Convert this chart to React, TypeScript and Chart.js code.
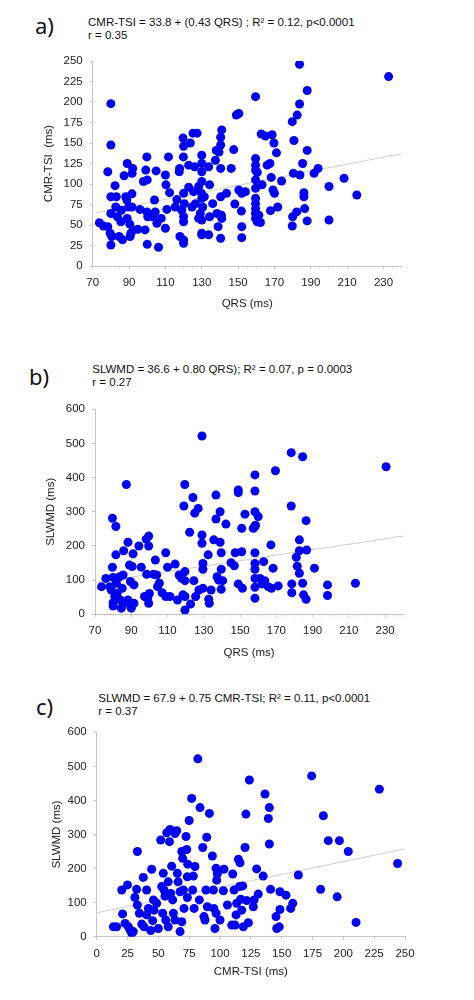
import { useEffect, useRef } from "react";
import { Chart, registerables } from "chart.js";

Chart.register(...registerables);

type Pt = [number, number];

// tick labels
const qrsTicks = [70, 90, 110, 130, 150, 170, 190, 210, 230];

// a) QRS (ms) vs CMR-TSI (ms)
const pointsA: Pt[] = [
  [73.7, 52.8], [75.9, 48.8], [78.3, 48], [78.3, 115], [80, 147.6], [80, 198], [80, 84.5], [80, 64],
  [79.6, 40], [80, 25.6], [80.5, 36], [82.3, 98], [82.7, 72], [83, 84.5], [83.6, 60], [84.5, 36],
  [85.5, 54], [85.8, 68], [86.4, 32], [87.3, 110], [88.2, 84.5], [88.8, 80.5], [89, 125], [89, 58],
  [89.7, 72], [90.4, 51], [90.6, 36], [91, 40], [91.6, 88], [91.7, 113], [92, 119], [91.6, 72],
  [92.4, 44], [94.8, 44.7], [96, 69], [98.8, 44], [97.9, 103], [99.8, 133], [99.2, 117], [100, 105],
  [99.8, 66], [100.3, 60], [100, 26.4], [103, 60], [104, 80.5], [104.4, 66], [104.9, 116], [105.3, 52],
  [106.2, 22.8], [107.7, 58], [110, 46], [110, 111], [110.3, 99], [110.8, 69], [111.7, 133], [112.3, 89.4],
  [115.4, 72], [116.3, 81], [117.6, 115], [117.8, 119], [118, 36], [119, 68], [119.7, 156], [120, 146],
  [119.9, 133], [120, 88.6], [120, 60], [120, 54], [120, 27.6], [120, 31.7], [120.4, 76], [122.8, 123],
  [122.8, 96], [123.7, 150], [124.6, 72], [125.2, 162], [125.5, 90.7], [126, 121], [126.5, 76], [127.4, 162],
  [128.3, 97], [128.3, 58], [129.2, 64], [129.8, 88.6], [130, 135], [130, 125], [130, 115], [130, 103],
  [130, 82.5], [130.5, 72], [130, 56], [130, 40], [130, 38], [131.4, 84.5], [133.8, 121], [133.8, 38],
  [134.3, 99], [134.3, 60], [136, 76], [137.5, 129], [138, 141], [138.4, 64], [139, 48], [139.5, 139],
  [140.4, 157], [140.4, 147.6], [140.4, 119], [140.4, 33.7], [140.4, 84.5], [140.8, 62], [141, 166], [141, 58],
  [143.6, 88.6], [146.2, 119], [147.6, 142], [148.2, 75.6], [149, 184], [150.4, 186], [150.4, 92.7], [152, 88.6],
  [151.8, 67], [152, 48], [152, 34.6], [154, 90.7], [159.6, 206.5], [159.6, 131], [159.6, 123], [159.6, 117],
  [159.6, 105], [159.6, 94.7], [159.6, 82.5], [159.6, 76], [159.6, 70], [159.6, 64], [159.6, 58], [160.5, 54],
  [160.5, 114], [161.4, 62], [162.3, 53], [162.7, 161], [163.2, 99], [165, 158.5], [166, 123], [167.5, 125],
  [167.8, 67.5], [168.2, 108], [168.7, 160], [169.2, 92.7], [169.7, 150], [170, 88.6], [171.1, 138], [171.8, 72],
  [173.9, 103.7], [179.8, 176], [179.8, 48.8], [180, 60], [180.4, 113], [180.7, 153], [182.2, 66], [182.5, 184],
  [183.8, 246], [183.8, 197.5], [184, 111], [185.5, 125], [186.2, 89.4], [186.2, 84.5], [186.6, 70], [188, 214],
  [188, 141], [188, 55], [191.8, 113], [194, 119], [200, 97], [200, 56], [208.3, 107], [215.3, 86.6],
  [232.8, 231],
];
const trendA: Pt[] = [[72, 65], [240, 137]];

// b) QRS (ms) vs SLWMD (ms)
const pointsB: Pt[] = [
  [73.6, 81], [76, 105], [78.2, 81], [79, 71], [79.6, 281], [79.6, 137.6], [80, 108], [80, 34],
  [80, 24], [80.9, 52], [81.5, 257], [81.5, 174], [81.8, 91], [82.2, 61], [83.6, 110], [84, 42],
  [84.5, 18], [85, 76], [85.5, 115], [85.8, 186], [86.4, 32], [87.3, 380], [88.2, 211], [88.2, 42],
  [89, 144], [89.5, 96], [90, 18], [90.5, 140], [91, 177], [91.5, 86], [91.5, 32], [94.2, 200],
  [95.5, 138], [97.3, 52], [98.2, 220], [98.5, 117], [99, 47], [99.6, 229], [99.6, 200], [99.6, 32],
  [100, 61], [102.2, 117], [103.3, 159], [104, 115], [104.5, 81], [105.5, 91], [107, 63], [109, 180],
  [109, 52], [110, 138], [111.3, 52], [114.2, 147], [115.5, 42], [116.4, 115], [117.8, 105], [118.5, 57],
  [119, 317], [119.5, 380], [119.6, 125], [119.6, 98.5], [119.6, 52], [119.6, 12.7], [122.2, 240], [122.7, 30],
  [124, 342], [124.5, 98.5], [125, 296], [125.5, 52], [126.9, 310], [127.3, 71], [129, 522], [129, 232],
  [129, 208], [129.5, 149], [129.5, 132], [129.5, 76], [132.4, 174], [132.7, 44], [133, 32], [134, 71],
  [135.5, 218], [136.7, 279], [136.7, 349], [137.3, 110], [138.2, 100], [139, 300], [139, 211], [139.6, 180],
  [139.6, 132], [139.6, 73], [140.4, 98.5], [142.2, 264], [145, 151], [146.8, 142], [147.3, 180], [149, 364],
  [149, 356], [149, 89], [150.9, 252], [150.9, 183], [151.3, 76], [152.7, 293], [157.3, 252], [158.2, 408],
  [158.2, 361], [158.2, 300], [158.2, 257], [158.2, 180], [158.2, 149], [158.2, 132], [158.2, 105], [158.2, 79],
  [158.2, 47], [158.5, 261], [160, 286], [161, 105], [162, 89], [163, 154], [163.6, 98.5], [165.5, 81],
  [167, 203], [167.3, 76], [168.2, 135], [169.5, 420], [171, 83], [178.2, 317], [178.2, 473], [178.5, 89],
  [178.5, 63], [181, 167], [181.5, 141], [182.7, 218], [182.7, 120], [182.7, 186], [184.5, 461], [184.5, 91],
  [185, 57], [186.4, 274], [186.4, 44], [186.7, 188], [191, 135], [198.2, 86], [198.2, 55], [213.6, 91],
  [230.5, 432],
];
const trendB: Pt[] = [[70, 93], [240, 229]];

// c) CMR-TSI (ms) vs SLWMD (ms)
const pointsC: Pt[] = [
  [13.5, 29], [16.2, 29], [20.3, 137], [21, 67], [23, 39], [25, 152], [25.7, 29], [27, 20],
  [28.4, 10], [29.7, 15], [31, 115], [32.4, 139], [33, 250], [33, 93], [34.6, 69], [36.5, 37],
  [37.8, 174], [38.4, 29], [40.5, 137], [40.5, 64], [41.9, 83], [43.8, 18], [44.6, 198], [45.4, 47],
  [46, 108], [46.5, 78], [48.6, 98], [50, 24], [51.9, 284], [52.7, 147], [53.5, 69], [54, 186],
  [54.6, 137], [55.4, 119], [56, 49], [56.8, 305], [58, 161], [58, 29], [59, 279], [59.5, 315],
  [60, 127], [60.8, 207], [61.6, 108], [62.2, 69], [63.5, 303], [63.5, 49], [64.9, 311], [65.4, 186],
  [66, 161], [67.6, 132], [67.6, 15], [69, 44], [69, 250], [69.7, 230], [70.3, 137], [70.8, 83],
  [72.4, 294], [73, 256], [73.5, 176], [73.8, 213], [73.5, 115], [75, 341], [77, 406], [77.8, 137],
  [78.4, 178], [79, 83], [79.7, 206], [82, 522], [83.2, 108], [83.8, 379], [86, 262], [87, 59],
  [87.8, 49], [88.6, 137], [89.2, 292], [89.7, 88], [91.4, 362], [93.8, 237], [94.6, 137], [95, 83],
  [95.9, 24], [96.8, 69], [96.8, 201], [97.3, 166], [97.8, 184], [100, 49], [102.7, 135], [103.2, 198],
  [106, 93], [109.5, 34], [110.3, 184], [111.4, 137], [112.2, 34], [113, 64], [113.5, 98], [114.9, 227],
  [115.7, 147], [116.2, 217], [116.8, 110], [117.6, 78], [118.4, 149], [118.9, 29], [120.3, 262], [121, 360],
  [121.6, 106], [123, 41], [123.8, 460], [127, 88], [127.6, 108], [129.7, 199], [131, 125], [135, 178],
  [136.5, 419], [139.2, 347], [140, 379], [140, 272], [141, 139], [145.4, 59], [146, 24], [148, 29],
  [148.6, 80], [148.6, 132], [153.5, 122], [157.3, 83], [159, 98], [163.5, 181], [174.3, 472], [181.6, 139],
  [183.8, 355], [187.8, 282], [195, 117], [196.8, 282], [204, 250], [210.3, 42], [229.2, 433], [244, 215],
];
const trendC: Pt[] = [[0, 70], [250, 258]];

const FONT = "'Liberation Sans', Arial, sans-serif";
const DOT = "#0000f2";
const AXIS = "#c4c4c4";

interface PanelCfg {
  letter: string;
  eq1: string;
  eq2: string;
  points: Pt[];
  trend: Pt[];
  xTitle: string;
  yTitle: string;
  xMin: number;
  xMax: number;
  xStep: number;
  xLabels?: number[];
  xMinor?: number;
  yMax: number;
  yStep: number;
  // layout (px)
  top: number;
  height: number;
  padTop: number;
  padLeft: number;
  padRight: number;
  yWidth: number;
  xHeight: number;
  letterX: number;
  letterY: number;
  eqX: number;
  eqY: number;
}

const panels: PanelCfg[] = [
  {
    letter: "a)", eq1: "CMR-TSI = 33.8 + (0.43 QRS) ; R\u00b2 = 0.12, p<0.0001", eq2: "r = 0.35",
    points: pointsA, trend: trendA, xTitle: "QRS (ms)", yTitle: "CMR-TSI  (ms)",
    xMin: 70, xMax: 240, xStep: 20, xLabels: qrsTicks, xMinor: 5, yMax: 250, yStep: 25,
    top: 40, height: 275, padTop: 21, padLeft: 38, padRight: 72.3, yWidth: 54.7, xHeight: 49,
    letterX: 35, letterY: 12, eqX: 88, eqY: 16,
  },
  {
    letter: "b)", eq1: "SLWMD = 36.6 + 0.80 QRS); R\u00b2 = 0.07, p = 0.0003", eq2: "r = 0.27",
    points: pointsB, trend: trendB, xTitle: "QRS (ms)", yTitle: "SLWMD (ms)",
    xMin: 70, xMax: 240, xStep: 20, xLabels: qrsTicks, xMinor: 5, yMax: 600, yStep: 100,
    top: 390, height: 273.3, padTop: 19.3, padLeft: 39.5, padRight: 70.7, yWidth: 55.5, xHeight: 49,
    letterX: 29, letterY: 363, eqX: 92.3, eqY: 363,
  },
  {
    letter: "c)", eq1: "SLWMD = 67.9 + 0.75 CMR-TSI; R\u00b2 = 0.11, p<0.0001", eq2: "r = 0.37",
    points: pointsC, trend: trendC, xTitle: "CMR-TSI (ms)", yTitle: "SLWMD (ms)",
    xMin: 0, xMax: 250, xStep: 25, yMax: 600, yStep: 100,
    top: 715, height: 268, padTop: 17.3, padLeft: 46.1, padRight: 69, yWidth: 50.6, xHeight: 46.3,
    letterX: 36, letterY: 693, eqX: 98.3, eqY: 692,
  },
];

function Panel({ cfg }: { cfg: PanelCfg }) {
  const canvasRef = useRef<HTMLCanvasElement | null>(null);

  useEffect(() => {
    if (!canvasRef.current) return;
    const tickFont = { family: FONT, size: 11.5 };
    const titleFont = { family: FONT, size: 11.5 };
    const labels = cfg.xLabels;

    const chart = new Chart(canvasRef.current, {
      type: "scatter",
      data: {
        datasets: [
          {
            type: "line",
            data: cfg.trend.map(([x, y]) => ({ x, y })),
            borderColor: "#cfcfcf",
            borderWidth: 1,
            pointRadius: 0,
            fill: false,
            order: 2,
          },
          {
            data: cfg.points.map(([x, y]) => ({ x, y })),
            backgroundColor: DOT,
            borderColor: DOT,
            borderWidth: 0,
            pointRadius: 4.5,
            order: 1,
          },
        ],
      },
      options: {
        responsive: true,
        maintainAspectRatio: false,
        animation: false,
        layout: { padding: { top: cfg.padTop, left: cfg.padLeft, right: cfg.padRight, bottom: 0 } },
        plugins: { legend: { display: false }, tooltip: { enabled: false } },
        scales: {
          x: {
            type: "linear",
            min: cfg.xMin,
            max: cfg.xMax,
            afterBuildTicks: cfg.xMinor
              ? (s: any) => {
                  const t: { value: number }[] = [];
                  for (let v = cfg.xMin; v <= cfg.xMax; v += cfg.xMinor!) t.push({ value: v });
                  s.ticks = t;
                }
              : undefined,
            afterFit: (s: any) => {
              s.height = cfg.xHeight;
            },
            ticks: {
              stepSize: cfg.xStep,
              padding: 7,
              font: tickFont,
              color: "#222",
              maxRotation: 0,
              autoSkip: false,
              callback: (v: any) => (labels ? (labels.includes(v) ? String(v) : "") : String(v)),
            },
            grid: {
              display: true,
              drawOnChartArea: false,
              drawTicks: true,
              tickLength: 3,
              color: (ctx: any) => (labels && !labels.includes(ctx.tick?.value) ? "#e2e2e2" : AXIS),
            },
            border: { color: AXIS },
            title: { display: true, text: cfg.xTitle, font: titleFont, color: "#222", padding: 4 },
          },
          y: {
            type: "linear",
            min: 0,
            max: cfg.yMax,
            afterFit: (s: any) => {
              s.width = cfg.yWidth;
            },
            ticks: { stepSize: cfg.yStep, padding: 7, font: tickFont, color: "#222" },
            grid: { display: true, drawOnChartArea: false, drawTicks: true, tickLength: 3, color: AXIS },
            border: { color: AXIS },
            title: { display: true, text: cfg.yTitle, font: titleFont, color: "#222", padding: 4 },
          },
        },
      },
    });

    return () => {
      chart.destroy();
    };
  }, [cfg]);

  return (
    <>
      <div style={{ position: "absolute", left: cfg.letterX, top: cfg.letterY, fontFamily: "'Noto Sans', sans-serif", fontSize: 22, lineHeight: "26px", color: "#111" }}>
        {cfg.letter}
      </div>
      <div style={{ position: "absolute", left: cfg.eqX, top: cfg.eqY, fontFamily: FONT, fontSize: 11.5, lineHeight: "13.3px", color: "#111", whiteSpace: "nowrap" }}>
        <div>{cfg.eq1}</div>
        <div>{cfg.eq2}</div>
      </div>
      <div style={{ position: "absolute", left: 0, top: cfg.top, width: 474, height: cfg.height }}>
        <canvas ref={canvasRef} />
      </div>
    </>
  );
}

export default function App() {
  return (
    <div style={{ position: "absolute", left: 0, top: 0, width: 474, height: 1000, background: "#fff" }}>
      {panels.map(p => (
        <Panel key={p.letter} cfg={p} />
      ))}
    </div>
  );
}
